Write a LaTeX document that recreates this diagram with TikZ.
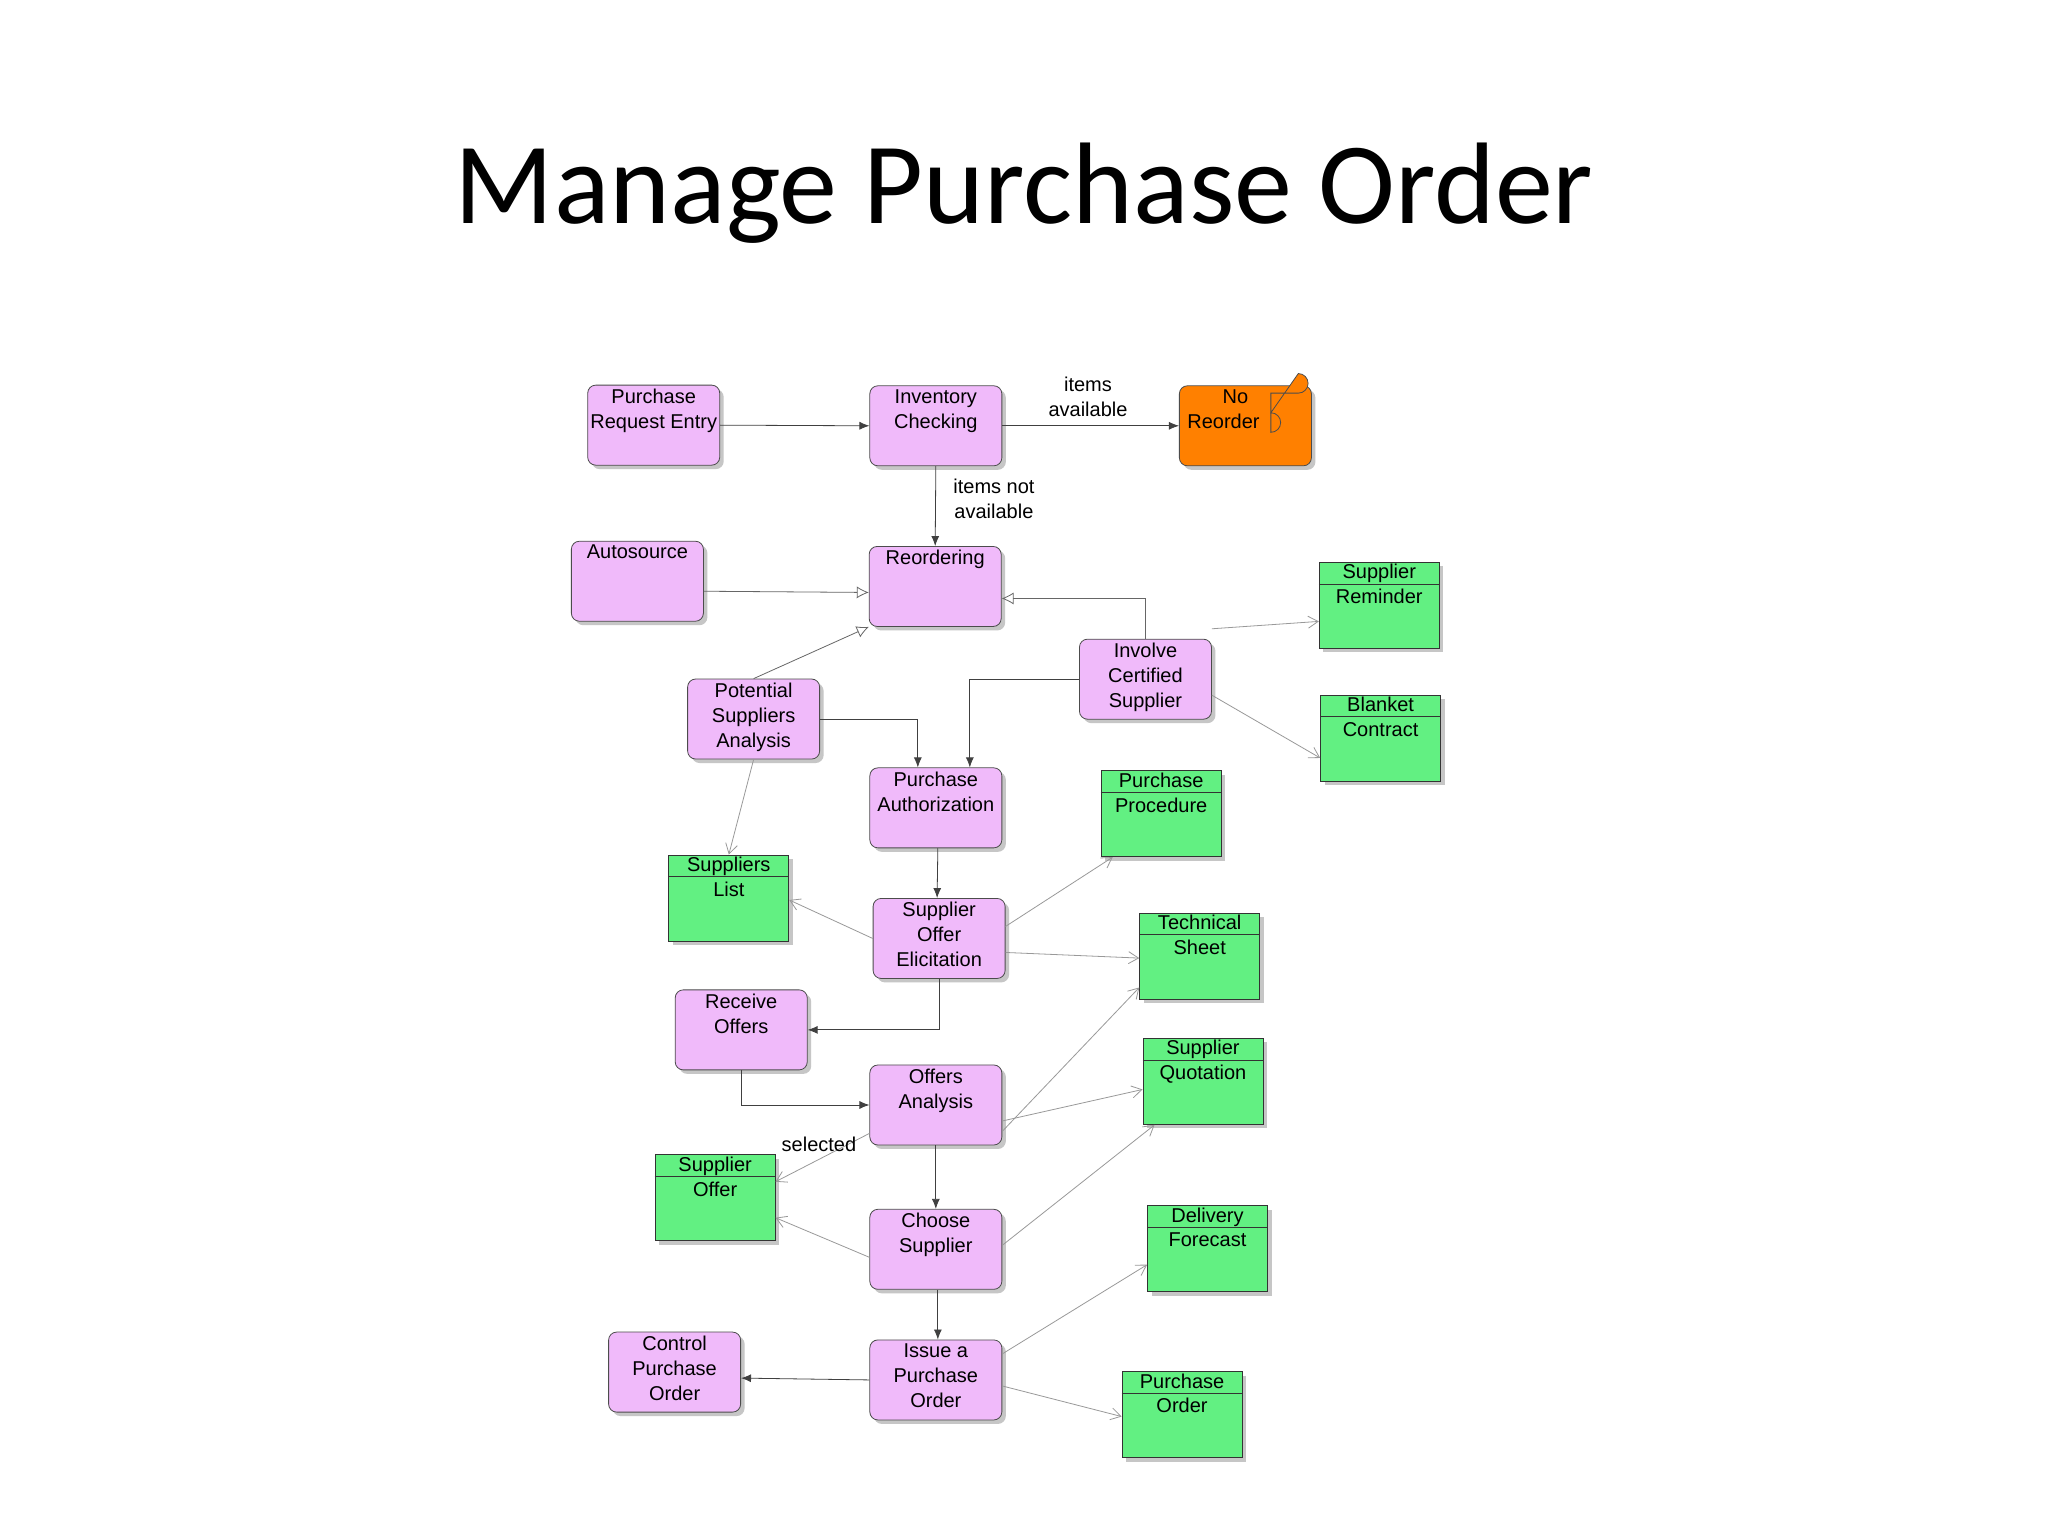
\documentclass[tikz,border=0pt]{standalone}
\usepackage{fontspec}
\setmainfont{Liberation Sans}
\newfontfamily\titlefont{Carlito}
\usetikzlibrary{arrows.meta,shadows,calc}
\definecolor{pur}{RGB}{240,186,250}
\definecolor{grn}{RGB}{98,240,130}
\definecolor{org}{RGB}{255,128,0}
\tikzset{
 x=0.653pt,y=-0.653pt,
 shd/.style={drop shadow={shadow xshift=2pt,shadow yshift=-2pt,fill=gray!45,opacity=1}},
 pbox/.style={draw=black!70,fill=pur,rounded corners=4pt,minimum width=66pt,minimum height=40pt,inner sep=0pt,shd},
 gbox/.style={draw=black!80,fill=grn,minimum width=60pt,minimum height=43pt,inner sep=0pt,shd},
 txt/.style={anchor=north,inner sep=0pt,yshift=-2pt,align=center,font=\fontsize{10}{12.4}\selectfont},
 fa/.style={draw=black!75,-{Latex[length=5pt,width=4pt]}},
 oa/.style={draw=black!60,-{Latex[open,length=6pt,width=6pt]}},
 ga/.style={draw=black!40,-{Straight Barb[length=5pt,width=6pt]}},
 gl/.style={draw=black!40},
 lab/.style={align=center,inner sep=0pt,font=\fontsize{10}{12.4}\selectfont},
}
\begin{document}
\begin{tikzpicture}
\useasboundingbox[fill=white] (0,0) rectangle (1568,1176);
\node[font=\titlefont\fontsize{58}{60}\selectfont] (title) at (784,148) {Manage Purchase Order};
% purple
\node[pbox] (pre) at (500.5,325.5) {}; \node[txt] at (pre.north) {Purchase\\Request Entry};
\node[pbox] (ic) at (716.5,326) {}; \node[txt] at (ic.north) {Inventory\\Checking};
\node[pbox,fill=org] (nr) at (953.5,326) {};
\node[txt,anchor=north west] at ([xshift=4pt]nr.north west) {\hspace*{12pt}No\\Reorder};
\draw[black!70,fill=org] (973,301) -- (994,301) arc (90:-90:7.5) -- (973,316) arc (-90:90:7.5) -- cycle;
\node[pbox] (auto) at (488,445) {}; \node[txt] at (auto.north) {Autosource};
\node[pbox] (reo) at (716,449) {}; \node[txt] at (reo.north) {Reordering};
\node[pbox] (ics) at (877,520) {}; \node[txt] at (ics.north) {Involve\\Certified\\Supplier};
\node[pbox] (psa) at (577,550.5) {}; \node[txt] at (psa.north) {Potential\\Suppliers\\Analysis};
\node[pbox] (pa) at (716.5,618.5) {}; \node[txt] at (pa.north) {Purchase\\Authorization};
\node[pbox] (soe) at (719,718.5) {}; \node[txt] at (soe.north) {Supplier\\Offer\\Elicitation};
\node[pbox] (ro) at (567.5,788.5) {}; \node[txt] at (ro.north) {Receive\\Offers};
\node[pbox] (oa) at (716.5,846) {}; \node[txt] at (oa.north) {Offers\\Analysis};
\node[pbox] (cs) at (716.5,956.5) {}; \node[txt] at (cs.north) {Choose\\Supplier};
\node[pbox] (ipo) at (716.5,1056.5) {}; \node[txt] at (ipo.north) {Issue a\\Purchase\\Order};
\node[pbox] (cpo) at (516.5,1050.5) {}; \node[txt] at (cpo.north) {Control\\Purchase\\Order};
% green
\newcommand\gnode[4]{\node[gbox] (#1) at (#2,#3) {};
 \draw[black!80] ([yshift=-11pt]#1.north west) -- ([yshift=-11pt]#1.north east);
 \node[txt,yshift=1pt] at (#1.north) {#4};}
\gnode{sr}{1056}{463.5}{Supplier\\Reminder}
\gnode{bc}{1057}{565}{Blanket\\Contract}
\gnode{pp}{889}{623}{Purchase\\Procedure}
\gnode{sl}{558}{687.5}{Suppliers\\List}
\gnode{ts}{918.5}{732}{Technical\\Sheet}
\gnode{sq}{921}{828}{Supplier\\Quotation}
\gnode{so}{547.5}{917}{Supplier\\Offer}
\gnode{df}{924.5}{956}{Delivery\\Forecast}
\gnode{po}{905}{1083}{Purchase\\Order}
% connectors
\draw[fa] (pre.east) -- (ic.west);
\draw[fa] (ic.east) -- (nr.west);
\node[lab] (l1) at (833,304) {items\\available};
\draw[fa] (ic.south) -- (reo.north);
\node[lab] (l2) at (761,382) {items not\\available};
\draw[oa] ([yshift=-5pt]auto.east) -- ([yshift=-3pt]reo.west);
\draw[oa] (psa.north) -- (reo.south west);
\draw[oa] (ics.north) |- ([yshift=-6pt]reo.east);
\draw[fa] (ics.west) -| ([xshift=17pt]pa.north);
\draw[fa] (psa.east) -| ([xshift=-9pt]pa.north);
\draw[ga] ([yshift=5pt]ics.north east) -- ([yshift=-8pt]sr.west);
\draw[ga] ([yshift=-8pt]ics.east) -- ([yshift=-10pt]bc.west);
\draw[gl,-{Straight Barb[length=5pt,width=6pt]}] (psa.south) -- (sl.north);
\draw[fa] ([xshift=1pt]pa.south) -- ([xshift=-1pt]soe.north);
\draw[ga] ([yshift=6pt]soe.east) -- ([xshift=6pt]pp.south west);
\draw[ga] (soe.west) -- ([yshift=-1pt]sl.east);
\draw[ga] ([yshift=-7pt]soe.east) -- ([yshift=-1pt]ts.west);
\draw[fa] (soe.south) |- (ro.east);
\draw[fa] (ro.south) |- (oa.west);
\draw[ga] ([yshift=7pt]oa.south east) -- ([yshift=6pt]ts.south west);
\draw[ga] ([yshift=-8pt]oa.east) -- ([yshift=-4pt]sq.west);
\draw[ga] ([yshift=6pt]oa.south west) -- ([yshift=8pt]so.east);
\node[lab] (l3) at (627,876) {selected};
\draw[fa] (oa.south) -- (cs.north);
\draw[ga] ([yshift=-4pt]cs.west) -- ([yshift=-10pt]so.east);
\draw[ga] ([yshift=2pt]cs.east) -- ([xshift=6pt]sq.south west);
\draw[fa] ([xshift=1pt]cs.south) -- ([xshift=1pt]ipo.north);
\draw[fa] (ipo.west) -- ([yshift=-3pt]cpo.east);
\draw[ga] ([yshift=13pt]ipo.east) -- ([yshift=-8pt]df.west);
\draw[ga] ([yshift=-3pt]ipo.east) -- ([yshift=-1pt]po.west);
\end{tikzpicture}
\end{document}
